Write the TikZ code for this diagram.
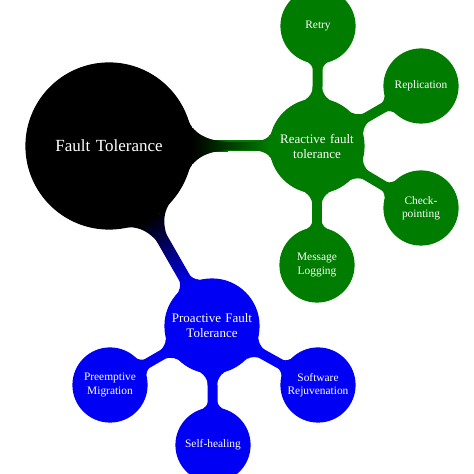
\documentclass[tikz,border=0pt]{standalone}
\usepackage{fontspec}
\setmainfont{Liberation Serif}
\usetikzlibrary{mindmap,calc}
\definecolor{fgreen}{RGB}{0,125,0}
\definecolor{fblue}{RGB}{0,0,245}
\begin{document}
\begin{tikzpicture}[x=1pt,y=1pt, mindmap,
  basec/.style={concept, text=white, inner sep=0pt, align=center},
  rootc/.style={basec, concept color=black, minimum size=166pt, text width=150pt, font=\fontsize{17}{20}\selectfont},
  lonec/.style={basec, minimum size=94pt, text width=88pt, font=\fontsize{13}{15}\selectfont},
  ltwoc/.style={basec, minimum size=74pt, text width=70pt, font=\fontsize{11.4}{13.3}\selectfont},
  greenc/.style={concept color=fgreen},
  bluec/.style={concept color=fblue},
  gbar/.style={draw=fgreen, line width=10pt},
  bbar/.style={draw=fblue, line width=10pt}]
\useasboundingbox (0,0) rectangle (474,474);
\begin{scope}
\clip (0,0) rectangle (474,474);
\node[rootc] (root) at (109,328) {Fault Tolerance};
\node[lonec, greenc] (react) at (317,328) {Reactive fault\\tolerance};
\node[ltwoc, greenc] (retry) at (318,448) {Retry};
\node[ltwoc, greenc] (repl) at (421,388) {Replication};
\node[ltwoc, greenc] (check) at (421,266) {Check-\\pointing};
\node[ltwoc, greenc] (msg) at (317,209) {Message\\Logging};
\node[lonec, bluec] (proact) at (212,148) {Proactive Fault\\Tolerance};
\node[ltwoc, bluec] (preempt) at (110,89) {Preemptive\\Migration};
\node[ltwoc, bluec] (self) at (213,29) {Self-healing};
\node[ltwoc, bluec] (soft) at (318,89) {Software\\Rejuvenation};
% widened bar cores
\shade[left color=black, right color=fgreen] ($(root.east)+(0,-5.5)$) rectangle ($(root.east)+(36,5.5)$);
\fill[fgreen] ($(root.east)+(35,-5.5)$) rectangle ($(react.west)+(0,5.5)$);
\begin{scope}[shift={(root.center)}, rotate=-60.2]
\shade[top color=black, bottom color=fblue, shading angle=29.8] (83,-6) rectangle (159.4,6);
\end{scope}
\path[gbar] (react) -- (retry);
\path[gbar] (react) -- (repl);
\path[gbar] (react) -- (check);
\path[gbar] (react) -- (msg);
\path[bbar] (proact) -- (preempt);
\path[bbar] (proact) -- (self);
\path[bbar] (proact) -- (soft);
% connection bars
\path (root) to[circle connection bar switch color=from (black) to (fgreen)] (react);
\path (root) to[circle connection bar switch color=from (black) to (fblue)] (proact);
\path (react) to[circle connection bar switch color=from (fgreen) to (fgreen)] (retry);
\path (react) to[circle connection bar switch color=from (fgreen) to (fgreen)] (repl);
\path (react) to[circle connection bar switch color=from (fgreen) to (fgreen)] (check);
\path (react) to[circle connection bar switch color=from (fgreen) to (fgreen)] (msg);
\path (proact) to[circle connection bar switch color=from (fblue) to (fblue)] (preempt);
\path (proact) to[circle connection bar switch color=from (fblue) to (fblue)] (self);
\path (proact) to[circle connection bar switch color=from (fblue) to (fblue)] (soft);
\end{scope}
\end{tikzpicture}
\end{document}
